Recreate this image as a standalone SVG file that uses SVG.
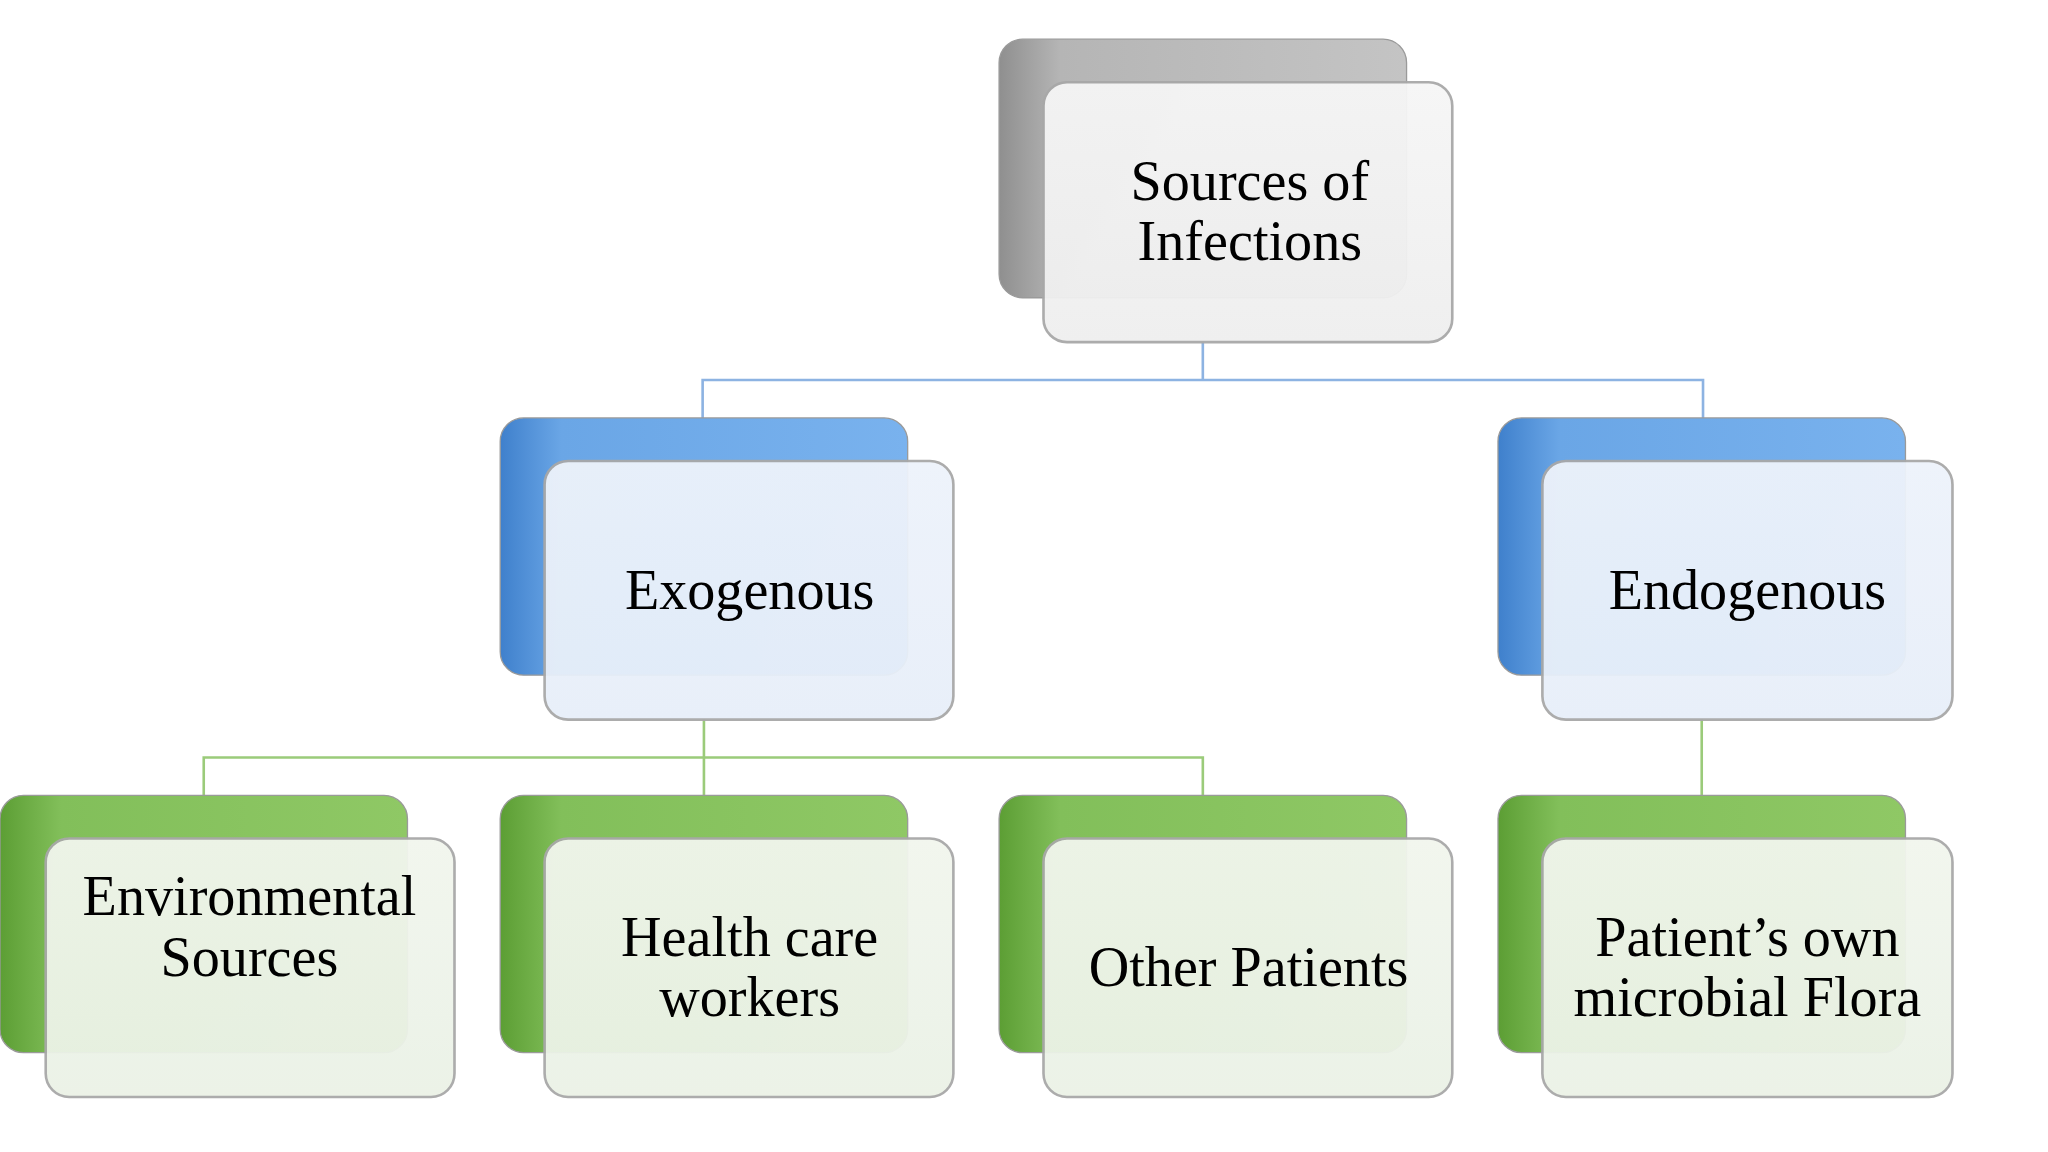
<svg xmlns="http://www.w3.org/2000/svg" width="2048" height="1152" viewBox="0 0 2048 1152">
<defs>
<linearGradient id="gGray" x1="0" y1="0" x2="1" y2="0"><stop offset="0" stop-color="#8f8f8f"/><stop offset="0.15" stop-color="#b5b5b5"/><stop offset="1" stop-color="#c4c4c4"/></linearGradient>
<linearGradient id="gBlue" x1="0" y1="0" x2="1" y2="0"><stop offset="0" stop-color="#3f80cc"/><stop offset="0.15" stop-color="#6aa6e6"/><stop offset="1" stop-color="#79b2ee"/></linearGradient>
<linearGradient id="gGreen" x1="0" y1="0" x2="1" y2="0"><stop offset="0" stop-color="#5c9e34"/><stop offset="0.15" stop-color="#82bf5a"/><stop offset="1" stop-color="#8fc865"/></linearGradient>
<linearGradient id="fGray" x1="0" y1="0" x2="0" y2="1"><stop offset="0" stop-color="#f6f6f6"/><stop offset="1" stop-color="#efefef"/></linearGradient>
<linearGradient id="fBlue" x1="0" y1="0" x2="0" y2="1"><stop offset="0" stop-color="#eef3fb"/><stop offset="1" stop-color="#e7eff9"/></linearGradient>
<linearGradient id="fGreen" x1="0" y1="0" x2="0" y2="1"><stop offset="0" stop-color="#f2f6ee"/><stop offset="1" stop-color="#ebf2e6"/></linearGradient>
</defs>
<style>
.back{stroke:#9a9a9a;stroke-width:1}
.front{stroke:#a8a8a8;stroke-width:2;opacity:0.95}
.t{font-family:"Liberation Serif",serif;font-size:43px;fill:#000;text-anchor:middle}
.cb{stroke:#8db3e2;stroke-width:2;fill:none}
.cg{stroke:#9bcb7a;stroke-width:2;fill:none}
</style>
<g transform="scale(1.306)">
<g id="connectors">
<path class="cb" d="M921 262V291M538 320V291H1304V320"/>
<path class="cg" d="M539 551V609M156 609V580H921V609M1303 551V609"/>
</g>
<g id="n-root">
<rect class="back" x="765" y="30" width="312" height="198" rx="18" fill="url(#gGray)"/>
<rect class="front" x="799" y="63" width="313" height="199" rx="18" fill="url(#fGray)"/>
<text class="t" x="957" y="153">Sources of</text><text class="t" x="957" y="199">Infections</text>
</g>
<g id="n-exo">
<rect class="back" x="383" y="320" width="312" height="197" rx="18" fill="url(#gBlue)"/>
<rect class="front" x="417" y="353" width="313" height="198" rx="18" fill="url(#fBlue)"/>
<text class="t" x="574" y="466">Exogenous</text>
</g>
<g id="n-endo">
<rect class="back" x="1147" y="320" width="312" height="197" rx="18" fill="url(#gBlue)"/>
<rect class="front" x="1181" y="353" width="314" height="198" rx="18" fill="url(#fBlue)"/>
<text class="t" x="1338" y="466">Endogenous</text>
</g>
<g id="n-env">
<rect class="back" x="0" y="609" width="312" height="197" rx="18" fill="url(#gGreen)"/>
<rect class="front" x="35" y="642" width="313" height="198" rx="18" fill="url(#fGreen)"/>
<text class="t" x="191" y="701">Environmental</text><text class="t" x="191" y="747">Sources</text>
</g>
<g id="n-hcw">
<rect class="back" x="383" y="609" width="312" height="197" rx="18" fill="url(#gGreen)"/>
<rect class="front" x="417" y="642" width="313" height="198" rx="18" fill="url(#fGreen)"/>
<text class="t" x="574" y="732">Health care</text><text class="t" x="574" y="778">workers</text>
</g>
<g id="n-other">
<rect class="back" x="765" y="609" width="312" height="197" rx="18" fill="url(#gGreen)"/>
<rect class="front" x="799" y="642" width="313" height="198" rx="18" fill="url(#fGreen)"/>
<text class="t" x="956" y="755">Other Patients</text>
</g>
<g id="n-flora">
<rect class="back" x="1147" y="609" width="312" height="197" rx="18" fill="url(#gGreen)"/>
<rect class="front" x="1181" y="642" width="314" height="198" rx="18" fill="url(#fGreen)"/>
<text class="t" x="1338" y="732">Patient’s own</text><text class="t" x="1338" y="778">microbial Flora</text>
</g>
</g>
</svg>
